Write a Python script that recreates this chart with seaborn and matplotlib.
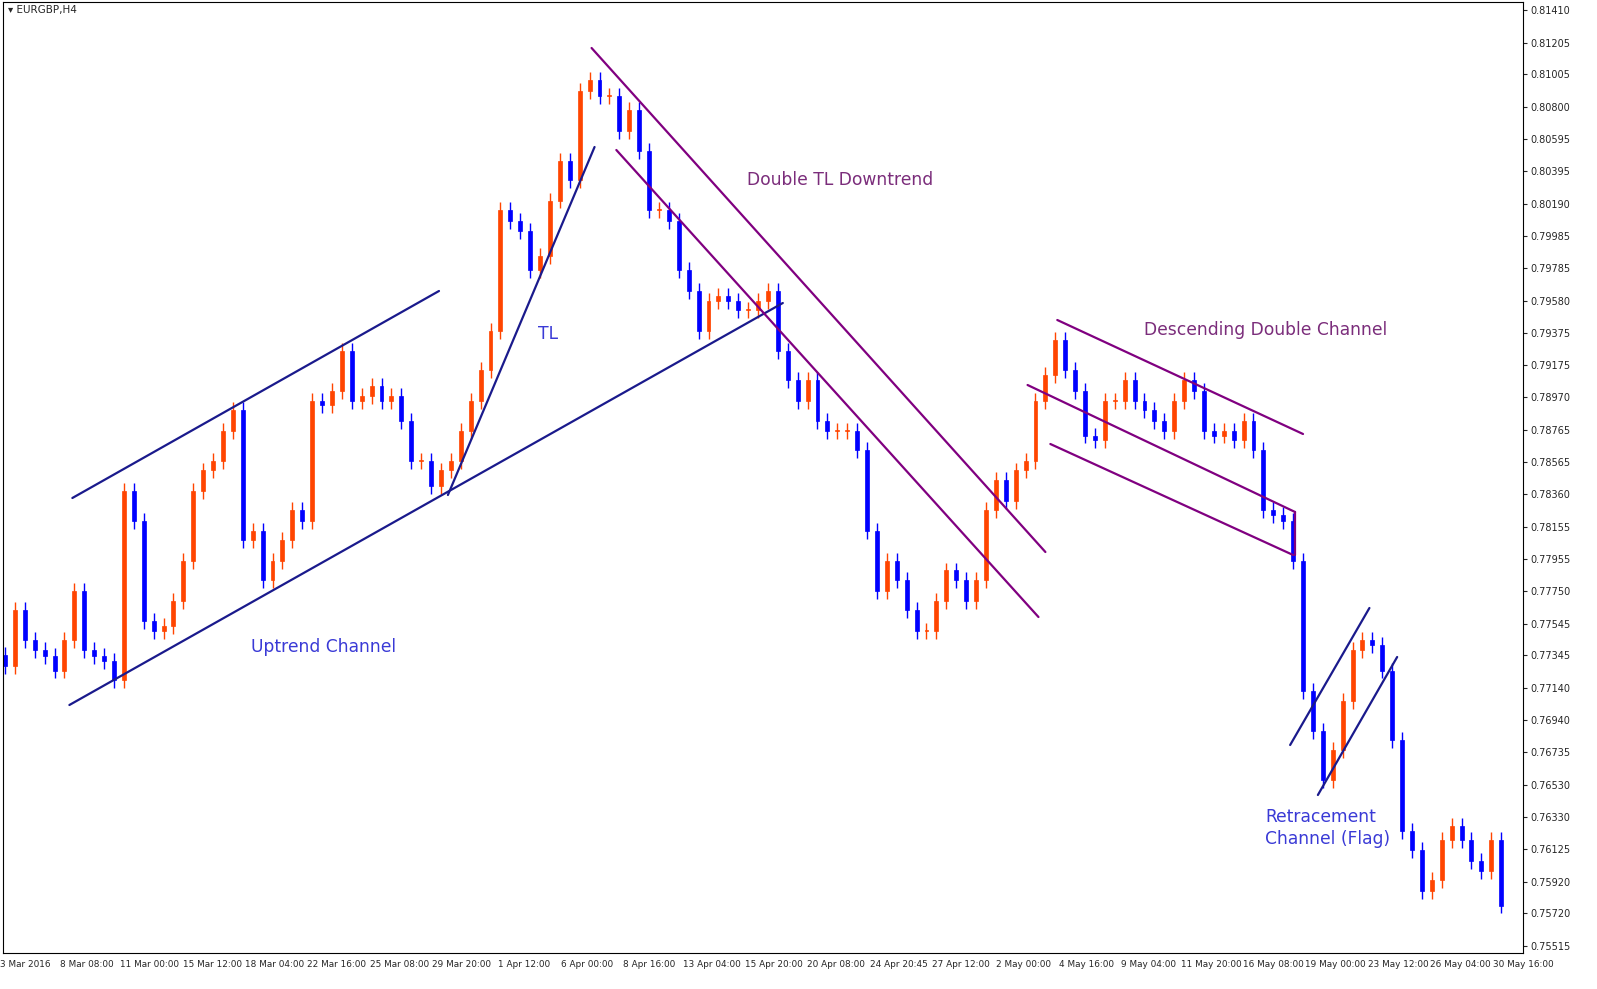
import numpy as np
import pandas as pd
import matplotlib
matplotlib.use("Agg")
import matplotlib.pyplot as plt
import seaborn as sns

# EURGBP H4 closes (one per ~10 px of the x axis)
closes = [0.7728, 0.7763, 0.7744, 0.7738, 0.7734, 0.7725, 0.7744, 0.7775, 0.7738, 0.7734,
          0.7731, 0.7719, 0.7838, 0.7819, 0.7756, 0.7750, 0.7753, 0.7769, 0.7794, 0.7838,
          0.7851, 0.7857, 0.7876, 0.7889, 0.7807, 0.7813, 0.7782, 0.7794, 0.7807, 0.7826,
          0.7819, 0.7895, 0.7892, 0.7901, 0.7926, 0.7895, 0.7898, 0.7904, 0.7895, 0.7898,
          0.7882, 0.7857, 0.7857, 0.7841, 0.7851, 0.7857, 0.7876, 0.7895, 0.7914, 0.7939,
          0.8015, 0.8008, 0.8002, 0.7977, 0.7986, 0.8021, 0.8046, 0.8034, 0.8090, 0.8097,
          0.8087, 0.8087, 0.8065, 0.8078, 0.8052, 0.8015, 0.8015, 0.8008, 0.7977, 0.7964,
          0.7939, 0.7958, 0.7961, 0.7958, 0.7952, 0.7952, 0.7958, 0.7964, 0.7926, 0.7908,
          0.7895, 0.7908, 0.7882, 0.7876, 0.7876, 0.7876, 0.7864, 0.7813, 0.7775, 0.7794,
          0.7782, 0.7763, 0.7750, 0.7750, 0.7769, 0.7788, 0.7782, 0.7769, 0.7782, 0.7826,
          0.7845, 0.7832, 0.7851, 0.7857, 0.7895, 0.7911, 0.7933, 0.7914, 0.7901, 0.7873,
          0.7870, 0.7895, 0.7895, 0.7908, 0.7895, 0.7889, 0.7882, 0.7876, 0.7895, 0.7908,
          0.7901, 0.7876, 0.7873, 0.7876, 0.7870, 0.7882, 0.7864, 0.7826, 0.7823, 0.7819,
          0.7794, 0.7712, 0.7687, 0.7656, 0.7675, 0.7706, 0.7738, 0.7744, 0.7741, 0.7725,
          0.7681, 0.7624, 0.7612, 0.7586, 0.7593, 0.7618, 0.7627, 0.7618, 0.7605, 0.7599,
          0.7618, 0.7577]
first_open = 0.7735
wick = 0.0005

y_ticks = [0.81410, 0.81205, 0.81005, 0.80800, 0.80595, 0.80395, 0.80190, 0.79985, 0.79785,
           0.79580, 0.79375, 0.79175, 0.78970, 0.78765, 0.78565, 0.78360, 0.78155, 0.77955,
           0.77750, 0.77545, 0.77345, 0.77140, 0.76940, 0.76735, 0.76530, 0.76330, 0.76125,
           0.75920, 0.75720, 0.75515]
x_labels = ["3 Mar 2016", "8 Mar 08:00", "11 Mar 00:00", "15 Mar 12:00", "18 Mar 04:00",
            "22 Mar 16:00", "25 Mar 08:00", "29 Mar 20:00", "1 Apr 12:00", "6 Apr 00:00",
            "8 Apr 16:00", "13 Apr 04:00", "15 Apr 20:00", "20 Apr 08:00", "24 Apr 20:45",
            "27 Apr 12:00", "2 May 00:00", "4 May 16:00", "9 May 04:00", "11 May 20:00",
            "16 May 08:00", "19 May 00:00", "23 May 12:00", "26 May 04:00", "30 May 16:00"]

df = pd.DataFrame({"close": closes})
df["open"] = [first_open] + closes[:-1]
df["high"] = df[["open", "close"]].max(axis=1) + wick
df["low"] = df[["open", "close"]].min(axis=1) - wick
df["up"] = df["close"] >= df["open"]

sns.set_style("white")
fig = plt.figure(figsize=(15.97, 9.89), dpi=100)
ax = fig.add_axes([3 / 1597, 36 / 989, 1520 / 1597, 951 / 989])

n = len(df)
# pixel helpers for the hand-drawn annotation lines
def px(x):
    return (x - 5) / 10.0
def py(y):
    return 0.81410 - (y - 10) * (0.05895 / 936)

colors = np.where(df["up"], "#FF4500", "#0000FF")
ax.vlines(df.index, df["low"], df["high"], colors=colors, lw=1)
ax.bar(df.index, (df["close"] - df["open"]).abs().clip(lower=0.00005),
       bottom=df[["open", "close"]].min(axis=1), width=0.4, color=colors, edgecolor=colors,
       linewidth=0.5)

navy = "#1a1a8c"
purple = "#800080"
lines = [((70, 705), (790, 303), navy), ((73, 498), (443, 291), navy),
         ((452, 495), (600, 147), navy),
         ((597, 48), (1055, 552), purple), ((622, 150), (1048, 617), purple),
         ((1067, 320), (1315, 434), purple), ((1037, 385), (1307, 512), purple),
         ((1060, 444), (1305, 555), purple), ((1307, 512), (1307, 555), purple),
         ((1302, 745), (1382, 608), navy), ((1330, 795), (1410, 657), navy)]
for (x0, y0), (x1, y1), c in lines:
    ax.plot([px(x0), px(x1)], [py(y0), py(y1)], color=c, lw=1.6)

tc_blue = "#3a3ad6"
tc_purple = "#7b2d7b"
fs = 12.3
ax.text(px(253), py(647), "Uptrend Channel", color=tc_blue, fontsize=fs, va="center")
ax.text(px(543), py(334), "TL", color=tc_blue, fontsize=fs, va="center")
ax.text(px(754), py(180), "Double TL Downtrend", color=tc_purple, fontsize=fs, va="center")
ax.text(px(1155), py(330), "Descending Double Channel", color=tc_purple, fontsize=fs, va="center")
ax.text(px(1277), py(828), "Retracement\nChannel (Flag)", color=tc_blue, fontsize=fs,
        va="center", linespacing=1.3)
ax.text(0.003, 0.997, "\u25be EURGBP,H4", transform=ax.transAxes, fontsize=7.5, va="top",
        family=["DejaVu Sans"])

ax.set_xlim(px(3), px(1523))
ax.set_ylim(py(953), py(2))
ax.yaxis.tick_right()
ax.set_yticks(y_ticks)
ax.set_yticklabels([f"{v:.5f}" for v in y_ticks], fontsize=7)
tick_pos = [px(p) for p in np.linspace(25, 1537, len(x_labels))]
ax.set_xticks(tick_pos)
ax.set_xticklabels(x_labels, fontsize=6.4)
ax.tick_params(axis="both", length=3, direction="out", pad=2)
for s in ax.spines.values():
    s.set_color("black")
    s.set_linewidth(0.8)

fig.savefig("out.png", dpi=100, facecolor="white")
